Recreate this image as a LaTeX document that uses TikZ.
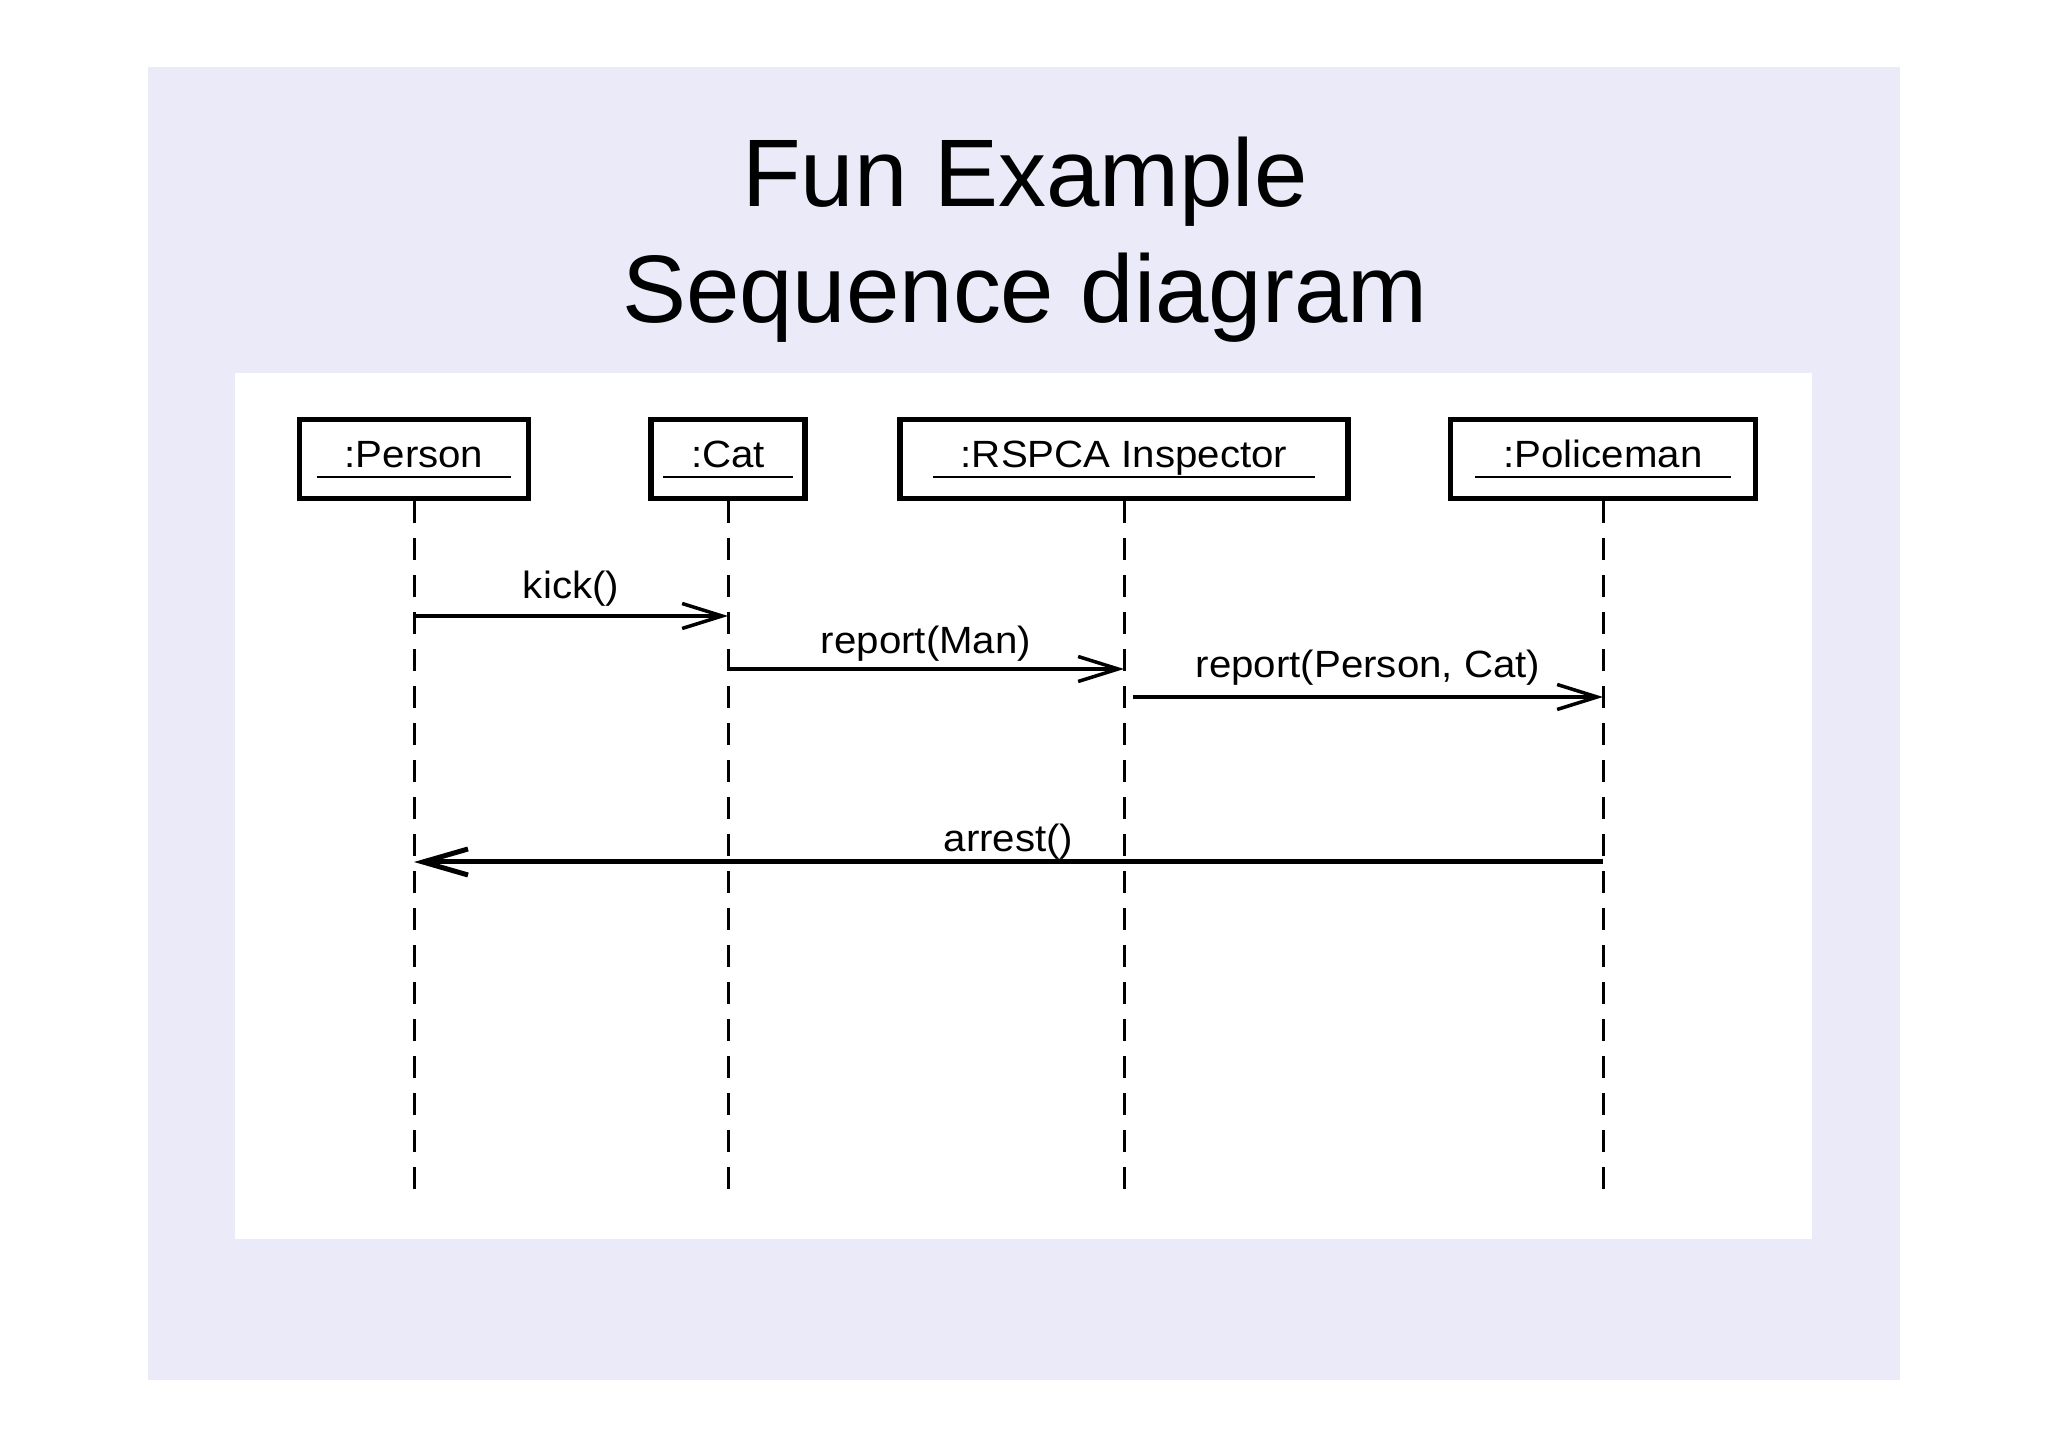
\documentclass[tikz,border=0pt]{standalone}
\usepackage{fontspec}
\setmainfont{Liberation Sans}
\newfontfamily\diagfont[FakeStretch=1.06]{Liberation Sans}
\usetikzlibrary{arrows.meta,positioning,calc}
\definecolor{lavanda}{RGB}{234,234,249}
\definecolor{tinta}{RGB}{0,0,0}
\newcommand{\objname}[1]{\setbox0=\hbox{\hspace{0.28cm}#1\hspace{0.28cm}}\ht0=0.28cm\dp0=0pt
  \vtop{\copy0\kern0.08cm\hrule height 0.022cm}}

\begin{document}
\begin{tikzpicture}[x=1cm,y=1cm,
    objbox/.style={draw=tinta,line width=0.055cm,minimum height=0.79cm,
      inner sep=0pt,font=\diagfont\fontsize{10.8}{13}\selectfont},
    lifeline/.style={tinta,line width=0.03cm,dash pattern=on 0.22cm off 0.15cm},
    msg/.style={tinta,line width=0.035cm,
      -{Straight Barb[length=0.4cm,width=0.25cm]}},
    msglabel/.style={midway,anchor=base,inner sep=0pt,
      font=\diagfont\fontsize{10.8}{13}\selectfont},
    titletext/.style={anchor=base,inner sep=0pt,
      font=\fontsize{27.3}{33}\selectfont}]
    % slide
    \fill[white,use as bounding box] (0,0) rectangle (20.48,-14.47);
    \fill[lavanda] (1.48,-0.67) rectangle (19.00,-13.80);
    \fill[white] (2.35,-3.73) rectangle (18.12,-12.39);
    % title
    \node[titletext] (title1) at (10.25,-2.07) {Fun Example};
    \node[titletext] (title2) at ([yshift=-1.16cm]title1.base)
      {Sequence diagram};
    % objects
    \node[objbox,minimum width=2.29cm] (person) at (4.14,-4.59)
      {\objname{:Person}};
    \node[objbox,minimum width=1.54cm] (cat) at (7.28,-4.59)
      {\objname{:Cat}};
    \node[objbox,minimum width=4.48cm] (inspector) at (11.24,-4.59)
      {\objname{:RSPCA Inspector}};
    \node[objbox,minimum width=3.05cm] (policeman) at (16.03,-4.59)
      {\objname{:Policeman}};
    % lifelines
    \foreach \obj in {person,cat,inspector,policeman}{
      \coordinate (\obj-end) at (\obj |- 0,-11.96);
      \draw[lifeline] (\obj.south) -- (\obj-end);
    }
    % messages
    \draw[msg] (person |- 0,-6.16) -- (cat |- 0,-6.16)
      node[msglabel,yshift=0.17cm]{kick()};
    \draw[msg] (cat |- 0,-6.69) -- (inspector |- 0,-6.69)
      node[msglabel,yshift=0.15cm]{report(Man)};
    \draw[msg] ([xshift=0.09cm]inspector |- 0,-6.97) -- (policeman |- 0,-6.97)
      node[msglabel,yshift=0.19cm]{report(Person, Cat)};
    \draw[msg,line width=0.05cm,
          -{Straight Barb[length=0.45cm,width=0.26cm]}]
      (policeman |- 0,-8.62) -- (person |- 0,-8.62)
      node[msglabel,yshift=0.10cm]{arrest()};
\end{tikzpicture}
\end{document}
